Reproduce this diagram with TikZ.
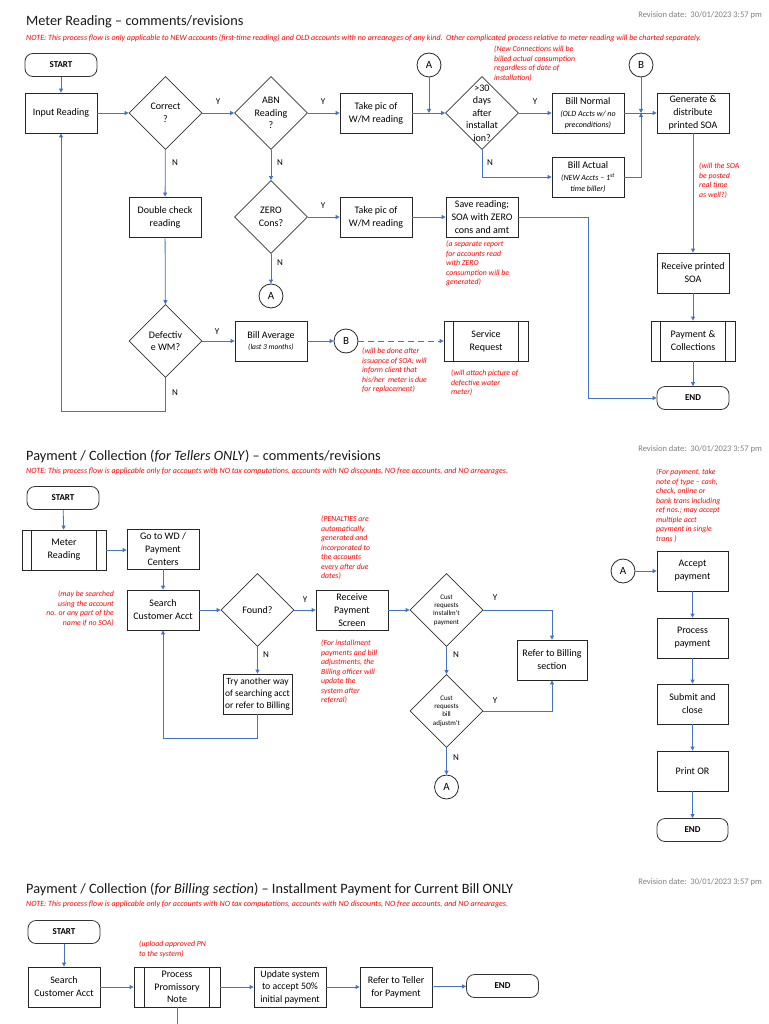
\documentclass[tikz,border=0pt]{standalone}
\usepackage{fontspec}
\setmainfont{Carlito}
\usetikzlibrary{shapes.geometric,arrows.meta,calc}
\newcommand\myfs[2]{\fontsize{#1}{#2}\selectfont}
\newcommand\subt[1]{{\myfs{8}{11}\itshape #1}}
\definecolor{fl}{HTML}{4472C4}
\definecolor{nr}{HTML}{FF0000}
\newcommand\pdlines[2][10pt]{\draw[black!85,line width=0.8pt] ([xshift=#1]#2.north west) -- ([xshift=#1]#2.south west) ([xshift=-#1]#2.north east) -- ([xshift=-#1]#2.south east);}
\begin{document}
\begin{tikzpicture}[x=1pt,y=-1pt,
 box/.style={draw=black!85,line width=0.8pt,minimum width=72pt,minimum height=40pt,align=center,inner sep=1pt,font=\myfs{10}{13}},
 pbox/.style={box,minimum width=84pt},
 dia/.style={draw=black!80,line width=0.8pt,shape=diamond,minimum width=73pt,minimum height=73pt,inner sep=0pt},
 dtext/.style={align=center,font=\myfs{10}{12.5},inner sep=0pt},
 dstext/.style={align=center,font=\myfs{7}{8.3},inner sep=0pt},
 term/.style={draw=black!80,line width=0.8pt,rounded corners=8pt,minimum width=72pt,minimum height=23pt,font=\myfs{9}{10}\bfseries,inner sep=0pt},
 conn/.style={draw=black!85,line width=0.8pt,circle,minimum size=24pt,inner sep=0pt,font=\myfs{11}{12}},
 arr/.style={draw=fl,line width=0.8pt,-{Triangle[width=4pt,length=4pt]}},
 lnk/.style={draw=fl,line width=0.8pt},
 yn/.style={font=\myfs{9}{10},inner sep=0pt},
 note/.style={text=nr,font=\myfs{7.8}{9.5}\itshape,align=left,inner sep=0pt,anchor=north west},
 ttl/.style={font=\myfs{14.3}{16},anchor=west,inner sep=0pt,text=black!90},
 rev/.style={font=\myfs{8.5}{9},text=black!50,anchor=east,inner sep=0pt},
 hnote/.style={text=nr,font=\myfs{8}{9}\itshape,anchor=west,inner sep=0pt},
]
\fill[white] (0,0) rectangle (768,1024);
\useasboundingbox (0,0) rectangle (768,1024);

% ================= Section 1 =================
\node[ttl] (t1) at (26,22) {Meter Reading – comments/revisions};
\node[rev] (r1) at (762,15) {Revision date:\ \ 30/01/2023 3:57 pm};
\node[hnote] (h1) at (26,38) {NOTE: This process flow is only applicable to NEW accounts (first-time reading) and OLD accounts with no arrearages of any kind.\ \ Other complicated process relative to meter reading will be charted separately.};

\node[term] (s1) at (61,65) {START};
\node[box] (inp) at (61,113) {Input Reading};
\node[dia] (dc) at (165.5,113) {}; \node[dtext] (dct) at (dc) {Correct\\?};
\node[dia] (dabn) at (271,113) {}; \node[dtext] (dabnt) at (dabn) {ABN\\Reading\\?};
\node[box] (tp1) at (376,113) {Take pic of\\W/M reading};
\node[conn] (a1) at (429,65) {A};
\node[dia] (d30) at (482,113) {}; \node[dtext] (d30t) at (d30) {>30\\days\\after\\installat\\ion?};
\node[box] (bn) at (588,113) {Bill Normal\\[-1.5pt]\subt{(OLD Accts w/ no}\\[-2pt]\subt{preconditions)}};
\node[conn] (b1) at (641,65) {B};
\node[box] (gen) at (693,113) {Generate \&\\distribute\\printed SOA};
\node[box] (ba) at (588,177) {Bill Actual\\[-1.5pt]\subt{(NEW Accts – 1\textsuperscript{st}}\\[-2pt]\subt{time biller)}};
\node[box] (dcr) at (165,217) {Double check\\reading};
\node[dia] (dz) at (271,217) {}; \node[dtext] (dzt) at (dz) {ZERO\\Cons?};
\node[box] (tp2) at (376,217) {Take pic of\\W/M reading};
\node[box] (save) at (482,217) {Save reading;\\SOA with ZERO\\cons and amt};
\node[conn] (a2) at (271,296) {A};
\node[dia] (dwm) at (165.5,341) {}; \node[dtext] (dwmt) at (dwm) {Defectiv\\e WM?};
\node[box] (bav) at (271,341) {Bill Average\\[-2pt]{\myfs{7.5}{9}\itshape (last 3 months)}};
\node[conn] (b2) at (346,341) {B};
\node[pbox] (sr) at (486,341) {Service\\Request}; \pdlines{sr}
\node[box] (rps) at (693,273) {Receive printed\\SOA};
\node[pbox] (pc) at (693,341) {Payment \&\\Collections}; \pdlines{pc}
\node[term] (e1) at (693,398) {END};

\coordinate (j1) at (429,113);
\coordinate (j2) at (641,113);
\draw[arr] (s1) -- (inp);
\draw[arr] (inp) -- (dc);
\draw[arr] (dc) -- (dabn);
\draw[arr] (dabn) -- (tp1);
\draw[arr] (tp1) -- (d30);
\draw[arr] (a1) -- (j1);
\draw[arr] (d30) -- (bn);
\draw[arr] (bn) -- (gen);
\draw[arr] (b1) -- (j2);
\draw[arr] (ba.east) -| (j2);
\draw[arr] (d30.south) |- (ba.west);
\draw[arr] (dc) -- (dcr);
\draw[arr] (dabn) -- (dz);
\draw[arr] (dz) -- (tp2);
\draw[arr] (tp2) -- (save);
\draw[arr] (dz) -- (a2);
\draw[arr] (save.east) -- ++(70,0) |- (e1.west);
\draw[arr] (dcr) -- (dwm);
\draw[arr] (dwm) -- (bav);
\draw[arr] (bav) -- (b2);
\draw[arr,dashed,dash pattern=on 6pt off 4pt] (b2) -- (sr);
\draw[arr] (dwm.south) -- ++(0,33) -| (inp.south);
\draw[arr] (gen) -- (rps);
\draw[arr] (rps) -- (pc);
\draw[arr] (pc) -- (e1);

\node[yn] (y1) at (218,102) {Y};
\node[yn] (y2) at (323,102) {Y};
\node[yn] (y3) at (535,102) {Y};
\node[yn] (n1) at (175,163) {N};
\node[yn] (n2) at (280,163) {N};
\node[yn] (n3) at (490,163) {N};
\node[yn] (y4) at (323,206) {Y};
\node[yn] (n4) at (280,263) {N};
\node[yn] (y5) at (217,332) {Y};
\node[yn] (n5) at (175,393) {N};

\node[note] (c1) at (494,46) {(New Connections will be\\billed actual consumption\\regardless of date of\\installation)};
\node[note] (c2) at (699,163) {(will the SOA\\be posted\\real time\\as well?)};
\node[note] (c3) at (446,241) {(a separate report\\for accounts read\\with ZERO\\consumption will be\\generated)};
\node[note] (c4) at (362,348) {(will be done after\\issuance of SOA; will\\inform client that\\his/her\ \ meter is due\\for replacement)};
\node[note] (c5) at (451,370) {(will attach picture of\\defective water\\meter)};

% ================= Section 2 =================
\node[ttl] (t2) at (26,456) {Payment / Collection (\textit{for Tellers ONLY}) – comments/revisions};
\node[rev] (r2) at (762,449) {Revision date:\ \ 30/01/2023 3:57 pm};
\node[hnote] (h2) at (26,471) {NOTE: This process flow is applicable only for accounts with NO tax computations, accounts with NO discounts, NO free accounts, and NO arrearages.};

\node[term] (s2) at (63,498) {START};
\node[pbox] (mr) at (64,550) {Meter\\Reading}; \pdlines{mr}
\node[box] (gowd) at (163,549) {Go to WD /\\Payment\\Centers};
\node[box] (sca) at (163,610) {Search\\Customer Acct};
\node[dia] (df) at (257.5,610) {}; \node[dtext] (dft) at (df) {Found?};
\node[box] (rpay) at (352,610) {Receive\\Payment\\Screen};
\node[dia] (dci) at (446.5,610) {}; \node[dstext] (dcit) at (dci) {Cust\\requests\\Installm't\\payment};
\node[box,minimum width=70pt] (rb) at (552,660) {Refer to Billing\\section};
\node[dia] (dcb) at (446.5,711) {}; \node[dstext] (dcbt) at (dcb) {Cust\\requests\\bill\\adjustm't};
\node[conn] (a3) at (446.5,787) {A};
\node[box,minimum width=69pt,font=\myfs{9.5}{12}] (try) at (257.5,694) {Try another way\\of searching acct\\or refer to Billing};
\node[conn] (a4) at (623,571) {A};
\node[box,minimum width=71pt] (acc) at (692.5,571) {Accept\\payment};
\node[box,minimum width=71pt] (pp) at (692.5,638) {Process\\payment};
\node[box,minimum width=71pt] (sub) at (692.5,704) {Submit and\\close};
\node[box,minimum width=71pt] (por) at (692.5,771) {Print OR};
\node[term,minimum width=71pt] (e2) at (692.5,830) {END};

\draw[arr] (s2) -- (mr);
\draw[arr] (mr) -- (mr -| gowd.west);
\draw[arr] (gowd) -- (sca);
\draw[arr] (sca) -- (df);
\draw[arr] (df) -- (rpay);
\draw[arr] (rpay) -- (dci);
\draw[arr] (dci.east) -| (rb.north);
\draw[arr] (dci) -- (dcb);
\draw[arr] (dcb.east) -| (rb.south);
\draw[arr] (dcb) -- (a3);
\draw[arr] (df) -- (try);
\draw[arr] (try.south) -- ++(0,24) -| (sca.south);
\draw[arr] (a4) -- (acc);
\draw[arr] (acc) -- (pp);
\draw[arr] (pp) -- (sub);
\draw[arr] (sub) -- (por);
\draw[arr] (por) -- (e2);

\node[yn] (y6) at (305,600) {Y};
\node[yn] (y7) at (495,598) {Y};
\node[yn] (n6) at (456,655) {N};
\node[yn] (n7) at (266,655) {N};
\node[yn] (y8) at (495,701) {Y};
\node[yn] (n8) at (456,758) {N};

\node[note,anchor=north east,align=right] (c6) at (114,591) {(may be searched\\using the account\\no. or any part of the\\name if no SOA)};
\node[note] (c7) at (321,516) {(PENALTIES are\\automatically\\generated and\\incorporated to\\the accounts\\every after due\\dates)};
\node[note] (c8) at (321,640) {(For installment\\payments and bill\\adjustments, the\\Billing officer will\\update the\\system after\\referral)};
\node[note] (c9) at (656,469) {(For payment, take\\note of type – cash,\\check, online or\\bank trans including\\ref nos.; may accept\\multiple acct\\payment in single\\trans )};

% ================= Section 3 =================
\node[ttl] (t3) at (26,889) {Payment / Collection (\textit{for Billing section}) – Installment Payment for Current Bill ONLY};
\node[rev] (r3) at (762,882) {Revision date:\ \ 30/01/2023 3:57 pm};
\node[hnote] (h3) at (26,904) {NOTE: This process flow is applicable only for accounts with NO tax computations, accounts with NO discounts, NO free accounts, and NO arrearages.};

\node[term] (s3) at (64,932) {START};
\node[box] (sca3) at (64,987) {Search\\Customer Acct};
\node[box,minimum width=86pt,font=\myfs{10}{12.5}] (ppn) at (177,987) {Process\\Promissory\\Note}; \pdlines[11pt]{ppn}
\node[box,font=\myfs{9.8}{12.5}] (upd) at (290,987) {Update system\\to accept 50\%\\initial payment};
\node[box] (ref) at (396,987) {Refer to Teller\\for Payment};
\node[term] (e3) at (502.5,986) {END};
\coordinate (pend) at (177,1024);

\draw[arr] (s3) -- (sca3);
\draw[arr] (sca3) -- (ppn);
\draw[arr] (ppn) -- (upd);
\draw[arr] (upd) -- (ref);
\draw[arr] (ref) -- (e3);
\draw[lnk] (ppn.south) -- (pend);

\node[note] (c10) at (139,941) {(upload approved PN\\to the system)};
\end{tikzpicture}
\end{document}
